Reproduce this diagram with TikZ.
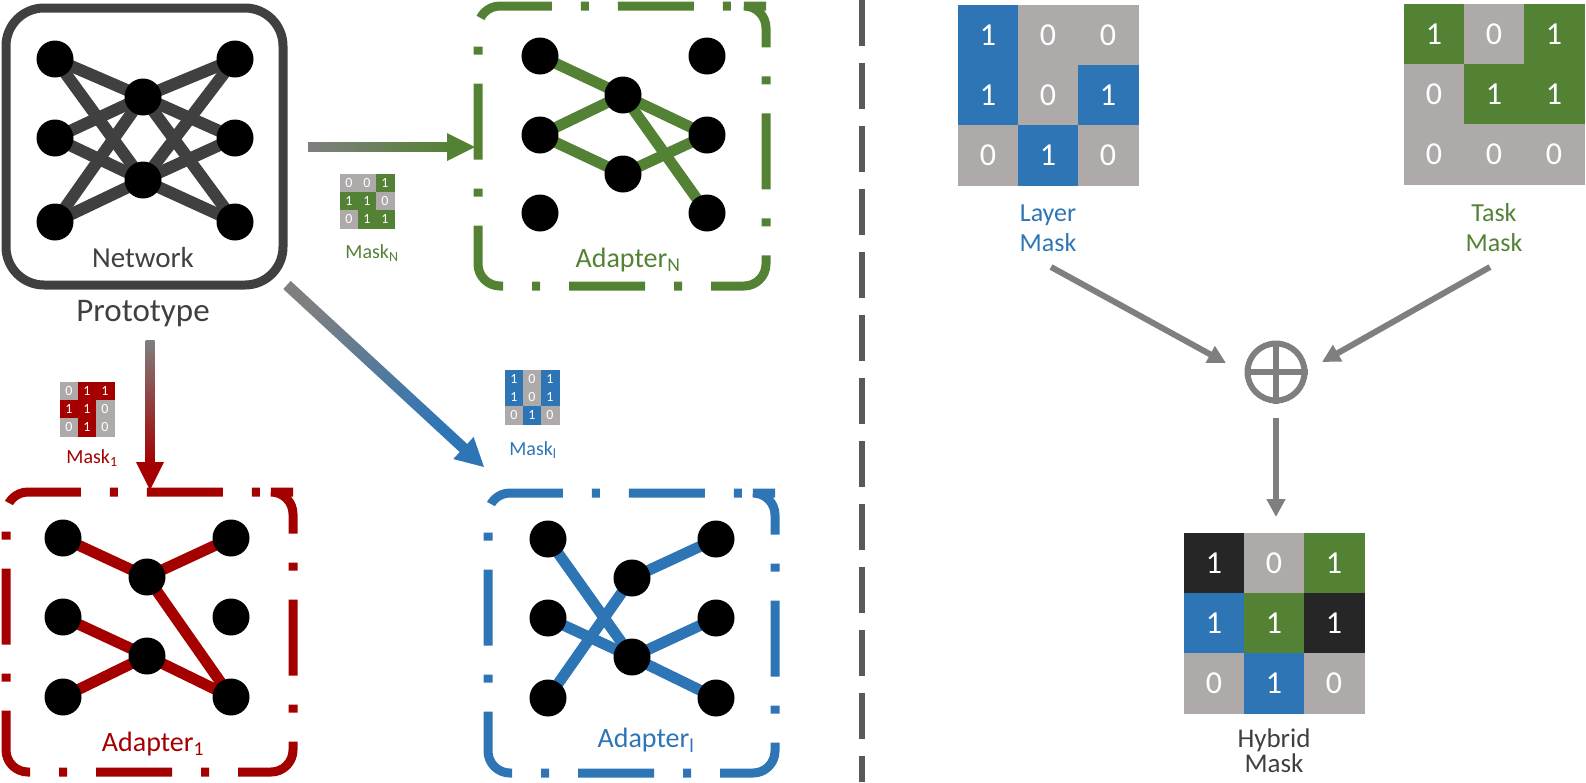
\documentclass[tikz,border=0pt]{standalone}
\usepackage{fontspec}
\setmainfont{Carlito}
\usetikzlibrary{calc,arrows.meta}
\pgfdeclarelayer{bg}
\pgfsetlayers{bg,main}
\definecolor{cblue}{HTML}{2E75B6}
\definecolor{cgreen}{HTML}{548235}
\definecolor{cred}{HTML}{A50000}
\definecolor{cgray}{HTML}{AEAAAA}
\definecolor{cdark}{HTML}{404040}
\definecolor{carrow}{HTML}{7F7F7F}
\definecolor{cblack}{HTML}{262626}
\definecolor{cdiv}{HTML}{595959}
\tikzset{
  neuron/.style={circle, fill=black, minimum size=37pt, inner sep=0pt},
  netedge/.style={line width=12pt, draw=cdark},
  adedge/.style={line width=11pt},
  adbox/.style={line width=9pt, rounded corners=22pt, dash pattern=on 76pt off 29pt on 8pt off 29pt},
  smallcell/.style={minimum size=18pt, inner sep=0pt, text=white, font=\fontsize{14pt}{14pt}\selectfont},
  bigcell/.style={minimum size=60pt, inner sep=0pt, text=white, font=\fontsize{32pt}{32pt}\selectfont},
  masklab/.style={anchor=base, font=\fontsize{20pt}{20pt}\selectfont},
  adlab/.style={anchor=base, font=\fontsize{28pt}{28pt}\selectfont},
  biglab/.style={anchor=base, font=\fontsize{26pt}{26pt}\selectfont},
  grayarrow/.style={draw=carrow, line width=6pt, -{Triangle[length=18pt,width=18pt]}},
}
\newcommand{\drawmask}[6]{%
  \foreach \mv/\mc [count=\mi from 0] in {#6} {%
    \node[#5, fill=\mc, draw=\mc, line width=0.6pt] (#1-\mi) at ({#2+#4/2+#4*mod(\mi,3)}, {#3+#4/2+#4*floor(\mi/3)}) {\mv};
  }%
}
\newcommand{\gradarrow}[7]{%
  \coordinate (#1S) at #2;
  \coordinate (#1T) at #3;
  \coordinate (#1H) at ($(#1T)!28pt!(#1S)$);
  \coordinate (#1E) at ($(#1T)!27pt!(#1S)$);
  \shade[#4] ($(#1S)!#6!90:(#1T)$) -- ($(#1E)!#6!90:(#1T)$) -- ($(#1E)!#6!-90:(#1T)$) -- ($(#1S)!#6!-90:(#1T)$) -- cycle;
  \fill[#5] (#1T) -- ($(#1H)!#7!90:(#1T)$) -- ($(#1H)!#7!-90:(#1T)$) -- cycle;
}
\begin{document}
\begin{tikzpicture}[x=1pt,y=-1pt]
\useasboundingbox (0,0) rectangle (1586,782);

% divider
\coordinate (divtop) at (862,0);
\coordinate (divbot) at (862,782);
\draw[cdiv, line width=6pt, dash pattern=on 46pt off 17pt] (divtop) -- (divbot);

% ---------- Network prototype ----------
\node[draw=cdark, line width=9pt, rounded corners=38pt, minimum width=277pt, minimum height=277pt, inner sep=0pt] (netbox) at (144.5,146.5) {};
\node[neuron] (nTL) at (55,59) {};
\node[neuron] (nML) at (55,138) {};
\node[neuron] (nBL) at (55,222) {};
\node[neuron] (nCT) at (143,97) {};
\node[neuron] (nCB) at (143,180) {};
\node[neuron] (nTR) at (235,59) {};
\node[neuron] (nMR) at (235,138) {};
\node[neuron] (nBR) at (235,222) {};
\begin{pgfonlayer}{bg}
\foreach \a in {nTL,nML,nBL}{\foreach \b in {nCT,nCB}{\draw[netedge] (\a.center) -- (\b.center);}}
\foreach \a in {nCT,nCB}{\foreach \b in {nTR,nMR,nBR}{\draw[netedge] (\a.center) -- (\b.center);}}
\end{pgfonlayer}
\node[anchor=base, text=cdark, font=\fontsize{29pt}{29pt}\selectfont] (netlab) at (143,267) {Network};
\node[anchor=base, text=cdark, font=\fontsize{33pt}{33pt}\selectfont] (protolab) at (143,321) {Prototype};

% ---------- Adapter N (green) ----------
\draw[adbox, cgreen] (744,6) -- (766,6) -- (766,286) -- (478,286) -- (478,6) -- cycle;
\node[neuron] (gTL) at (540,56) {};
\node[neuron] (gML) at (540,135) {};
\node[neuron] (gBL) at (540,213) {};
\node[neuron] (gCT) at (623,95) {};
\node[neuron] (gCB) at (623,174) {};
\node[neuron] (gTR) at (707,56) {};
\node[neuron] (gMR) at (707,135) {};
\node[neuron] (gBR) at (707,213) {};
\begin{pgfonlayer}{bg}
\foreach \a/\b in {gTL/gCT,gML/gCT,gML/gCB,gCT/gMR,gCT/gBR,gCB/gMR}{\draw[adedge, cgreen] (\a.center) -- (\b.center);}
\end{pgfonlayer}
\node[adlab, text=cgreen] (glab) at (628,267) {Adapter\textsubscript{N}};

% ---------- Adapter 1 (red) ----------
\draw[adbox, cred] (271,492) -- (293,492) -- (293,772) -- (6,772) -- (6,492) -- cycle;
\node[neuron] (rTL) at (63,538) {};
\node[neuron] (rML) at (63,617) {};
\node[neuron] (rBL) at (63,697) {};
\node[neuron] (rCT) at (147,577) {};
\node[neuron] (rCB) at (147,656) {};
\node[neuron] (rTR) at (231,538) {};
\node[neuron] (rMR) at (231,617) {};
\node[neuron] (rBR) at (231,697) {};
\begin{pgfonlayer}{bg}
\foreach \a/\b in {rTL/rCT,rCT/rTR,rCT/rBR,rML/rCB,rBL/rCB,rCB/rBR}{\draw[adedge, cred] (\a.center) -- (\b.center);}
\end{pgfonlayer}
\node[adlab, text=cred] (rlab) at (153,751) {Adapter\textsubscript{1}};

% ---------- Adapter l (blue) ----------
\draw[adbox, cblue] (753,493) -- (775,493) -- (775,773) -- (488,773) -- (488,493) -- cycle;
\node[neuron] (bTL) at (548,539) {};
\node[neuron] (bML) at (548,618) {};
\node[neuron] (bBL) at (548,698) {};
\node[neuron] (bCT) at (632,578) {};
\node[neuron] (bCB) at (632,657) {};
\node[neuron] (bTR) at (716,539) {};
\node[neuron] (bMR) at (716,618) {};
\node[neuron] (bBR) at (716,698) {};
\begin{pgfonlayer}{bg}
\foreach \a/\b in {bTL/bCB,bBL/bCT,bCT/bTR,bML/bCB,bCB/bMR,bCB/bBR}{\draw[adedge, cblue] (\a.center) -- (\b.center);}
\end{pgfonlayer}
\node[adlab, text=cblue] (blab) at (646,747) {Adapter\textsubscript{l}};

% ---------- small masks ----------
\drawmask{mN}{340}{174}{18}{smallcell}{0/cgray,0/cgray,1/cgreen,1/cgreen,1/cgreen,0/cgray,0/cgray,1/cgreen,1/cgreen}
\node[masklab, text=cgreen] (mNlab) at (372,258) {Mask\textsubscript{N}};
\drawmask{mone}{60}{382}{18}{smallcell}{0/cgray,1/cred,1/cred,1/cred,1/cred,0/cgray,0/cgray,1/cred,0/cgray}
\node[masklab, text=cred] (monelab) at (92,463) {Mask\textsubscript{1}};
\drawmask{ml}{505}{370}{18}{smallcell}{1/cblue,0/cgray,1/cblue,1/cblue,0/cgray,1/cblue,0/cgray,1/cblue,0/cgray}
\node[masklab, text=cblue] (mllab) at (533,455) {Mask\textsubscript{l}};

% ---------- gradient arrows ----------
\gradarrow{ga}{(308,147)}{(475,147)}{left color=carrow, right color=cgreen}{cgreen}{4.5pt}{14pt}
\gradarrow{ra}{(150,340)}{(150,490)}{top color=carrow, bottom color=cred}{cred}{4.5pt}{14pt}
\gradarrow{ba}{(287,285)}{(484,467)}{top color=carrow, bottom color=cblue, shading angle=45}{cblue}{5.5pt}{15pt}

% ---------- right side ----------
\drawmask{lay}{958}{5}{60}{bigcell}{1/cblue,0/cgray,0/cgray,1/cblue,0/cgray,1/cblue,0/cgray,1/cblue,0/cgray}
\node[biglab, text=cblue] (layl1) at (1048,221) {Layer};
\node[biglab, text=cblue] (layl2) at (1048,251) {Mask};
\drawmask{task}{1404}{4}{60}{bigcell}{1/cgreen,0/cgray,1/cgreen,0/cgray,1/cgreen,1/cgreen,0/cgray,0/cgray,0/cgray}
\node[biglab, text=cgreen] (taskl1) at (1494,221) {Task};
\node[biglab, text=cgreen] (taskl2) at (1494,251) {Mask};

\node[circle, draw=carrow, line width=6pt, minimum size=57pt, inner sep=0pt] (plus) at (1276,372) {};
\draw[carrow, line width=6pt] (plus.north) -- (plus.south) (plus.west) -- (plus.east);

\coordinate (layA) at (1051,267);
\coordinate (layB) at (1226,363);
\coordinate (taskA) at (1490,267);
\coordinate (taskB) at (1322,362);
\coordinate (plusdown) at (1276,418);
\coordinate (hybB) at (1276,517);
\draw[grayarrow] (layA) -- (layB);
\draw[grayarrow] (taskA) -- (taskB);
\draw[grayarrow] (plusdown) -- (hybB);

\drawmask{hyb}{1184}{533}{60}{bigcell}{1/cblack,0/cgray,1/cgreen,1/cblue,1/cgreen,1/cblack,0/cgray,1/cblue,0/cgray}
\node[align=center, anchor=north, inner sep=0pt, text=cdark, font=\fontsize{27pt}{25pt}\selectfont] (hyblab) at (1274,729) {Hybrid\\Mask};
\end{tikzpicture}
\end{document}
